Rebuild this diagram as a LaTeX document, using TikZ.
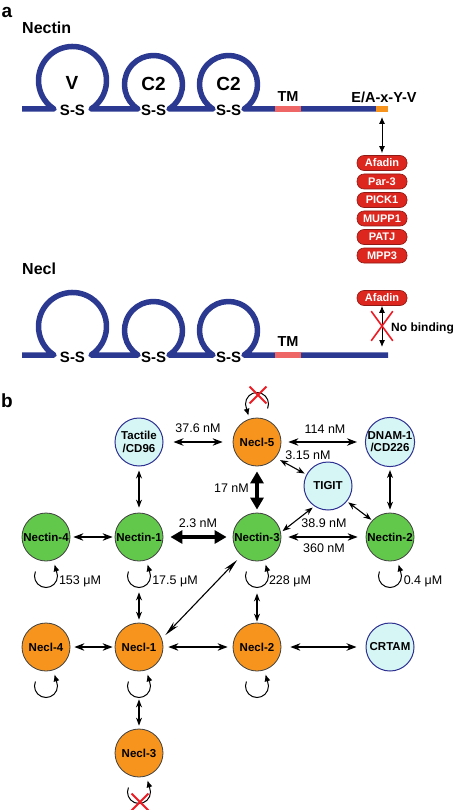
\documentclass[tikz,border=0pt]{standalone}
\usepackage{fontspec}
\setmainfont{Liberation Sans}
\usetikzlibrary{arrows.meta,shapes.misc,calc}
\definecolor{navy}{RGB}{43,57,144}
\definecolor{tmpink}{RGB}{238,102,102}
\definecolor{motif}{RGB}{247,148,29}
\definecolor{pillred}{RGB}{220,38,30}
\definecolor{ngreen}{RGB}{98,200,75}
\definecolor{norange}{RGB}{247,148,29}
\definecolor{ncyan}{RGB}{214,245,245}
\definecolor{cnavy}{RGB}{46,49,146}
\definecolor{xred}{RGB}{237,28,36}
\begin{document}
\begin{tikzpicture}[x=1pt,y=-1pt,
  panel/.style={font=\bfseries\fontsize{19}{19}\selectfont, inner sep=0},
  title/.style={font=\bfseries\fontsize{16}{16}\selectfont, inner sep=0, anchor=west},
  dom/.style={font=\bfseries\fontsize{19}{19}\selectfont, inner sep=0},
  ss/.style={font=\bfseries\fontsize{15}{15}\selectfont, inner sep=0},
  lab/.style={font=\bfseries\fontsize{14.5}{14.5}\selectfont, inner sep=0},
  bb/.style={draw=navy, line width=5.5pt, line join=round},
  pill/.style={rectangle, rounded corners=7pt, minimum width=50pt, minimum height=15pt, inner sep=0,
    fill=pillred, draw=pillred!65!black, line width=0.6pt, text=white, font=\bfseries\fontsize{11}{11}\selectfont},
  dbl/.style={{Latex[length=7pt,width=6pt]}-{Latex[length=7pt,width=6pt]}, line width=1pt},
  mnode/.style={circle, minimum size=48pt, inner sep=0, draw=black!75, line width=0.8pt,
    font=\bfseries\fontsize{11.5}{12.3}\selectfont, align=center},
  gnode/.style={mnode, fill=ngreen},
  onode/.style={mnode, fill=norange},
  cnode/.style={mnode, fill=ncyan, draw=cnavy, line width=1pt},
  elab/.style={font=\fontsize{12.5}{12.5}\selectfont, inner sep=0},
  ar/.style={{Stealth[length=10pt,width=7.5pt]}-{Stealth[length=10pt,width=7.5pt]}, line width=1.1pt},
  ars/.style={{Stealth[length=8pt,width=6pt]}-{Stealth[length=8pt,width=6pt]}, line width=1.1pt},
  longarrow/.style={{Stealth[length=15pt,width=6pt]}-{Stealth[length=15pt,width=6pt]}, line width=1.1pt},
  bigarrow/.style={{Triangle[length=12pt,width=13pt]}-{Triangle[length=12pt,width=13pt]}, line width=4pt},
  xmark/.style={cross out, draw=xred, line width=1.8pt, minimum width=15pt, minimum height=15pt, inner sep=0},
  selfloop/.pic={\draw[line width=1pt, -{Latex[length=7pt,width=6pt]}]
      (203:11.5) arc[start angle=203, end angle=-24, radius=11.5] -- ++(-2,-7);}
]
\useasboundingbox (0,0) rectangle (460,810);

% ---------------- panel a ----------------
\node[panel] (pa) at (7,12) {a};
\node[title] (nectin) at (22,28) {Nectin};
\draw[bb] (22,109) -- (54,109) arc[start angle=123, end angle=417, radius=34]
  -- (138,109) arc[start angle=122.3, end angle=417.7, radius=29]
  -- (213,109) arc[start angle=122.3, end angle=417.7, radius=29]
  -- (376,109);
\draw[tmpink, line width=5.5pt] (275,109) -- (301,109);
\node[fill=motif, minimum width=12pt, minimum height=5.5pt, inner sep=0] (pdz) at (382,109) {};
\node[dom] (v) at (72,83) {V};
\node[dom] (c2a) at (153.5,83.5) {C2};
\node[dom] (c2b) at (228.5,83.5) {C2};
\node[ss] (ss1) at (72.5,110.5) {S-S};
\node[ss] (ss2) at (153.5,110.5) {S-S};
\node[ss] (ss3) at (228.5,110.5) {S-S};
\node[lab] (tm1) at (288,97) {TM};
\node[lab] (eaxyv) at (384,97) {E/A-x-Y-V};

\node[pill] (afadin) at (382,163) {Afadin};
\node[pill] (par3) at (382,181.5) {Par-3};
\node[pill] (pick1) at (382,200) {PICK1};
\node[pill] (mupp1) at (382,218.5) {MUPP1};
\node[pill] (patj) at (382,237) {PATJ};
\node[pill] (mpp3) at (382,255.5) {MPP3};
\draw[dbl] ([yshift=-5pt]pdz.south) -- ([yshift=2pt]afadin.north);

\node[title] (necl) at (22,269) {Necl};
\draw[bb] (22,355) -- (54,355) arc[start angle=123, end angle=417, radius=34]
  -- (138,355) arc[start angle=122.3, end angle=417.7, radius=29]
  -- (213,355) arc[start angle=122.3, end angle=417.7, radius=29]
  -- (388,355);
\draw[tmpink, line width=5.5pt] (275,355) -- (301,355);
\coordinate (neclend) at (382,355);
\node[ss] (ss4) at (72.5,357) {S-S};
\node[ss] (ss5) at (153.5,357) {S-S};
\node[ss] (ss6) at (228.5,357) {S-S};
\node[lab] (tm2) at (288,342) {TM};
\node[pill] (afadinN) at (382,298) {Afadin};
\draw[dbl] (afadinN.south) -- ([yshift=8pt]neclend);
\node[cross out, draw=xred, line width=1.6pt, minimum width=20pt, minimum height=28pt, inner sep=0] (nox) at (382,326) {};
\node[anchor=west, inner sep=0, font=\bfseries\fontsize{12}{12}\selectfont] (nobind) at (391,328) {No binding};

% ---------------- panel b ----------------
\node[panel] (pb) at (7,401) {b};
\node[cnode] (tactile) at (139,442) {Tactile\\/CD96};
\node[onode] (necl5) at (257,442) {Necl-5};
\node[cnode] (dnam) at (390,442) {DNAM-1\\/CD226};
\node[cnode] (tigit) at (328,486) {TIGIT};
\node[gnode] (nectin4) at (46,537) {Nectin-4};
\node[gnode] (nectin1) at (139,537) {Nectin-1};
\node[gnode] (nectin3) at (257,537) {Nectin-3};
\node[gnode] (nectin2) at (390,537) {Nectin-2};
\node[onode] (necl4) at (46,647) {Necl-4};
\node[onode] (necl1) at (139,647) {Necl-1};
\node[onode] (necl2) at (257,647) {Necl-2};
\node[cnode] (crtam) at (390,647) {CRTAM};
\node[onode] (necl3) at (139,753) {Necl-3};

\draw[ar, shorten <=10pt, shorten >=10pt] (tactile) -- (necl5);
\draw[ar, shorten <=7pt, shorten >=8pt] (necl5) -- (dnam);
\draw[ar, shorten <=3pt, shorten >=2pt] (nectin4) -- (nectin1);
\draw[bigarrow, shorten <=7pt, shorten >=6pt] (nectin1) -- (nectin3);
\draw[ar, shorten <=7pt, shorten >=8pt] (nectin3) -- (nectin2);
\draw[ar, shorten <=4pt, shorten >=2pt] (necl4) -- (necl1);
\draw[ar, shorten <=5pt, shorten >=5pt] (necl1) -- (necl2);
\draw[ar, shorten <=9pt, shorten >=9pt] (necl2) -- (crtam);
\draw[ars, shorten <=4pt, shorten >=5pt] (tactile) -- (nectin1);
\draw[bigarrow, shorten <=5pt, shorten >=3pt] (necl5) -- (nectin3);
\draw[ars, shorten <=3pt, shorten >=3pt] (dnam) -- (nectin2);
\draw[ars, shorten <=31pt, shorten >=3pt] (nectin1) -- (necl1);
\draw[ars, shorten <=32pt, shorten >=1pt] (nectin3) -- (necl2);
\draw[ars, shorten <=28pt, shorten >=3pt] (necl1) -- (necl3);
\draw[ars, shorten <=5pt, shorten >=2pt] (necl5.-40) -- (tigit.152);
\draw[ars, shorten <=2pt, shorten >=2pt] (nectin3.11) -- (tigit.236);
\draw[ars, shorten <=1.5pt, shorten >=1pt] (tigit.-39) -- (nectin2.137);
\draw[longarrow, shorten <=5pt, shorten >=6pt] (necl1.20) -- (nectin3.230);

\pic at ($(nectin4)+(0,39)$) {selfloop};
\pic at ($(nectin1)+(0,39)$) {selfloop};
\pic at ($(nectin3)+(0,39)$) {selfloop};
\pic at ($(nectin2)+(0,39)$) {selfloop};
\pic at ($(necl4)+(0,39)$) {selfloop};
\pic at ($(necl1)+(0,39)$) {selfloop};
\pic at ($(necl2)+(0,39)$) {selfloop};
\pic at ($(necl3)+(0,39)$) {selfloop};
\pic[rotate=180] at ($(necl5)+(0,-38)$) {selfloop};
\node[xmark] (x5) at (258,395) {};
\node[xmark] (x3) at (140,802) {};

\node[elab] (k1) at (198,428) {37.6 nM};
\node[elab] (k2) at (325,429) {114 nM};
\node[elab] (k3) at (308,455) {3.15 nM};
\node[elab, anchor=east] (k4) at (249,488) {17 nM};
\node[elab] (k5) at (198,523) {2.3 nM};
\node[elab] (k6) at (324,523) {38.9 nM};
\node[elab] (k7) at (324,548) {360 nM};
\node[elab] (k8) at (80,581) {153 μM};
\node[elab] (k9) at (175,581) {17.5 μM};
\node[elab] (k10) at (290,581) {228 μM};
\node[elab] (k11) at (423,581) {0.4 μM};
\end{tikzpicture}
\end{document}
